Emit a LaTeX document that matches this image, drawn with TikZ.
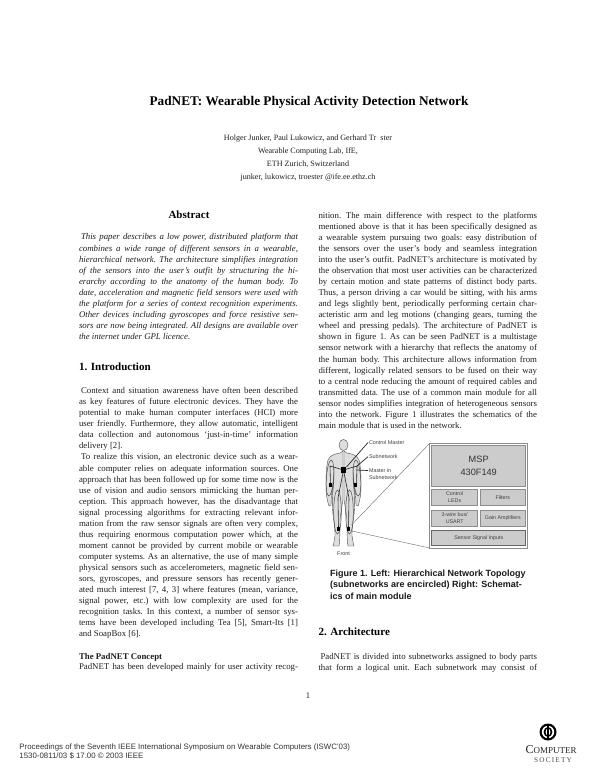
\documentclass[tikz,border=0pt]{standalone}
\usepackage{fontspec}
\setmainfont{Liberation Serif}
\setsansfont{Liberation Sans}
\newcounter{lnum}
\tikzset{
  x=1pt,y=-1pt,
  txt/.style={inner sep=0pt,outer sep=0pt,anchor=base west,yshift=-2.6pt,text=black!88,font=\fontsize{8.8}{10}\selectfont\frenchspacing},
  ctr/.style={inner sep=0pt,outer sep=0pt,anchor=base,yshift=-2.6pt,text=black!88},
  figlab/.style={inner sep=0pt,outer sep=0pt,text=black!75,font=\sffamily\fontsize{5.4}{6.6}\selectfont,align=center},
  modbox/.style={draw=black!45,fill=black!20,line width=0.7pt,inner sep=0pt,outer sep=0pt,font=\sffamily\fontsize{5.3}{7.4}\selectfont,text=black!75,align=center,anchor=north west},
  wire/.style={draw=black!85,line width=0.6pt},
  subring/.style={draw=black!70,line width=0.5pt},
  sqnode/.style={fill=black,draw=none,inner sep=0pt,minimum size=3.6pt},
  captxt/.style={inner sep=0pt,outer sep=0pt,anchor=base west,yshift=-2.8pt,font=\sffamily\bfseries\fontsize{9}{10}\selectfont,text=black!90},
  footl/.style={inner sep=0pt,outer sep=0pt,anchor=base west,font=\sffamily\fontsize{7.85}{9}\selectfont,text=black!80},
  sechead/.style={inner sep=0pt,outer sep=0pt,anchor=base west,yshift=-3.4pt,font=\bfseries\fontsize{11}{13}\selectfont}
}
\newcommand{\jline}[4]{\stepcounter{lnum}\node[txt] (l\arabic{lnum}) at (#1,#2) {\makebox[#3pt][s]{#4}};}
\newcommand{\pline}[3]{\stepcounter{lnum}\node[txt] (l\arabic{lnum}) at (#1,#2) {#3};}
\newcommand{\centline}[3]{\stepcounter{lnum}\node[ctr,font=\fontsize{8.1}{10}\selectfont] (l\arabic{lnum}) at (#1,#2) {#3};}
\newcommand{\halfbody}{%
  \fill[black!13,draw=black!70,line width=0.4pt] (343,451) -- (340,453) .. controls (335,454) and (330,455) .. (328,460)
    .. controls (326,468) and (326,478) .. (326,487) .. controls (326,494) and (327,500) .. (329,506)
    -- (331,505) .. controls (331,498) and (332,490) .. (333,484) .. controls (334,478) and (334,472) .. (334,467)
    .. controls (334,475) and (334,482) .. (333,490) .. controls (332,498) and (332,510) .. (334,522)
    .. controls (335,528) and (335,532) .. (335,536) .. controls (334,540) and (334,544) .. (333,546)
    -- (339,546) .. controls (340,540) and (340,530) .. (340,520) .. controls (341,512) and (342,505) .. (343,500) -- cycle;
  \draw[subring] (330,478) ellipse [x radius=3.6,y radius=18,rotate=-4];
  \draw[subring] (337.5,512) ellipse [x radius=3.8,y radius=22];
  \draw[wire] (343.5,470) -- (330,466) -- (330.5,485);
  \draw[wire] (343.5,470) -- (338,498) -- (338.5,529);
}
\begin{document}
\begin{tikzpicture}
\useasboundingbox (0,0) rectangle (600,776);
\fill[white] (0,0) rectangle (600,776);
% title and authors
\node[inner sep=0pt,anchor=base,font=\bfseries\fontsize{13.25}{16}\selectfont] (title) at (309,105.3) {PadNET: Wearable Physical Activity Detection Network};
\centline{308}{138.3}{Holger Junker, Paul Lukowicz, and Gerhard Tr\ \ ster}
\centline{308}{151}{Wearable Computing Lab, IfE,}
\centline{308}{164}{ETH Zurich, Switzerland}
\centline{308}{176.7}{junker, lukowicz, troester @ife.ee.ethz.ch}
% abstract
\node[inner sep=0pt,anchor=base,font=\bfseries\fontsize{11}{13}\selectfont] (abshead) at (189,218.5) {Abstract};
\jline{81}{237}{217}{\itshape This paper describes a low power, distributed platform that}
\jline{79}{249}{219}{\itshape combines a wide range of different sensors in a wearable,}
\jline{79}{260}{219}{\itshape hierarchical network. The architecture simplifies integration}
\jline{79}{270.5}{219}{\itshape of the sensors into the user's outfit by structuring the hi-}
\jline{79}{281.5}{219}{\itshape erarchy according to the anatomy of the human body. To}
\jline{79}{292.5}{219}{\itshape date, acceleration and magnetic field sensors were used with}
\jline{79}{303.7}{219}{\itshape the platform for a series of context recognition experiments.}
\jline{79}{314.7}{219}{\itshape Other devices including gyroscopes and force resistive sen-}
\jline{79}{325.5}{219}{\itshape sors are now being integrated. All designs are available over}
\pline{79}{337}{\itshape the internet under GPL licence.}
% introduction
\node[sechead] (h1) at (79,367) {1. Introduction};
\jline{81}{391}{217}{Context and situation awareness have often been described}
\jline{79}{402}{219}{as key features of future electronic devices. They have the}
\jline{79}{413.1}{219}{potential to make human computer interfaces (HCI) more}
\jline{79}{424.2}{219}{user friendly. Furthermore, they allow automatic, intelligent}
\jline{79}{435.2}{219}{data collection and autonomous `just-in-time' information}
\pline{79}{446.3}{delivery [2].}
\jline{81}{457.3}{217}{To realize this vision, an electronic device such as a wear-}
\jline{79}{468.4}{219}{able computer relies on adequate information sources. One}
\jline{79}{479.4}{219}{approach that has been followed up for some time now is the}
\jline{79}{490.5}{219}{use of vision and audio sensors mimicking the human per-}
\jline{79}{501.5}{219}{ception. This approach however, has the disadvantage that}
\jline{79}{512.6}{219}{signal processing algorithms for extracting relevant infor-}
\jline{79}{523.6}{219}{mation from the raw sensor signals are often very complex,}
\jline{79}{534.7}{219}{thus requiring enormous computation power which, at the}
\jline{79}{545.7}{219}{moment cannot be provided by current mobile or wearable}
\jline{79}{556.8}{219}{computer systems. As an alternative, the use of many simple}
\jline{79}{567.8}{219}{physical sensors such as accelerometers, magnetic field sen-}
\jline{79}{578.9}{219}{sors, gyroscopes, and pressure sensors has recently gener-}
\jline{79}{589.9}{219}{ated much interest [7, 4, 3] where features (mean, variance,}
\jline{79}{601}{219}{signal power, etc.) with low complexity are used for the}
\jline{79}{612}{219}{recognition tasks. In this context, a number of sensor sys-}
\jline{79}{623.1}{219}{tems have been developed including Tea [5], Smart-Its [1]}
\pline{79}{634.1}{and SoapBox [6].}
\pline{79}{656.7}{\bfseries The PadNET Concept}
\jline{79}{667}{219}{PadNET has been developed mainly for user activity recog-}
% second column
\jline{318.5}{215.7}{218.5}{nition. The main difference with respect to the platforms}
\jline{318.5}{226.8}{218.5}{mentioned above is that it has been specifically designed as}
\jline{318.5}{237.8}{218.5}{a wearable system pursuing two goals: easy distribution of}
\jline{318.5}{248.9}{218.5}{the sensors over the user's body and seamless integration}
\jline{318.5}{259.9}{218.5}{into the user's outfit. PadNET's architecture is motivated by}
\jline{318.5}{271}{218.5}{the observation that most user activities can be characterized}
\jline{318.5}{282}{218.5}{by certain motion and state patterns of distinct body parts.}
\jline{318.5}{293.1}{218.5}{Thus, a person driving a car would be sitting, with his arms}
\jline{318.5}{304.1}{218.5}{and legs slightly bent, periodically performing certain char-}
\jline{318.5}{315.2}{218.5}{acteristic arm and leg motions (changing gears, turning the}
\jline{318.5}{326.2}{218.5}{wheel and pressing pedals). The architecture of PadNET is}
\jline{318.5}{337.3}{218.5}{shown in figure 1. As can be seen PadNET is a multistage}
\jline{318.5}{348.3}{218.5}{sensor network with a hierarchy that reflects the anatomy of}
\jline{318.5}{359.4}{218.5}{the human body. This architecture allows information from}
\jline{318.5}{370.4}{218.5}{different, logically related sensors to be fused on their way}
\jline{318.5}{381.5}{218.5}{to a central node reducing the amount of required cables and}
\jline{318.5}{392.5}{218.5}{transmitted data. The use of a common main module for all}
\jline{318.5}{403.6}{218.5}{sensor nodes simplifies integration of heterogeneous sensors}
\jline{318.5}{414.6}{218.5}{into the network. Figure 1 illustrates the schematics of the}
\pline{318.5}{425.5}{main module that is used in the network.}
% figure: body
\node[circle,fill=black!13,draw=black!70,line width=0.4pt,minimum width=9pt,yscale=1.25,inner sep=0pt] (headshape) at (343.5,445) {};
\halfbody
\begin{scope}[xshift=687pt,xscale=-1]
\halfbody
\end{scope}
\node[sqnode,minimum size=5.5pt] (master) at (343.5,470) {};
\node[sqnode] (armL) at (330.5,485) {};
\node[sqnode] (armR) at (355.5,485) {};
\node[sqnode] (kneeL) at (338.5,529) {};
\node[sqnode] (kneeR) at (348.5,529) {};
\coordinate (legport) at (351.5,525);
\coordinate (legportb) at (352,531);
% figure labels
\node[figlab,anchor=west] (lab1) at (369,442.5) {Control Master};
\node[figlab,anchor=west] (lab2) at (369,456.7) {Subnetwork};
\node[figlab,anchor=west,align=left] (lab3) at (369,474) {Master in\\[0.4pt]Subnetwork};
\node[figlab] (front) at (343.5,554) {Front};
\draw[black!85,line width=0.7pt] ([xshift=-1pt]lab1.west) -- (master.north east);
\draw[black!85,line width=0.7pt] ([xshift=-1pt]lab2.west) -- (357,466);
\draw[black!85,line width=0.7pt] ([xshift=-1pt,yshift=3.5pt]lab3.west) -- (356.5,470);
% figure: module
\node[draw=black!45,fill=white,line width=0.7pt,minimum width=98pt,minimum height=104.5pt,inner sep=0pt,outer sep=0pt,anchor=north west] (panel) at (429.5,443.5) {};
\node[modbox,minimum width=94pt,minimum height=41pt] (msp) at (431.7,445) {};
\node[inner sep=0pt,font=\sffamily\fontsize{9.2}{13}\selectfont,text=black!80,align=center] (msptxt) at (msp.center) {MSP\\430F149};
\node[modbox,minimum width=46pt,minimum height=16.5pt] (leds) at (431.7,489) {Control\\LEDs};
\node[modbox,minimum width=45.7pt,minimum height=16.5pt] (filters) at (480,489) {Filters};
\node[modbox,minimum width=46pt,minimum height=16.7pt] (bus) at (431.7,510) {3-wire bus/\\USART};
\node[modbox,minimum width=45.7pt,minimum height=16.7pt] (gain) at (480,510) {Gain Amplifiers};
\node[modbox,draw=black!60,line width=1pt,minimum width=94pt,minimum height=15.5pt] (inputs) at (431.7,530) {Sensor Signal Inputs};
\draw[black!50,line width=0.5pt] (legport) -- (panel.north west);
\draw[black!50,line width=0.5pt] (legportb) -- (panel.south west);
% caption
\node[captxt] (c1) at (330,574) {Figure 1. Left: Hierarchical Network Topology};
\node[captxt] (c2) at (330,585) {(subnetworks are encircled) Right: Schemat-};
\node[captxt] (c3) at (330,596.7) {ics of main module};
% section 2
\node[sechead] (h2) at (318.5,632.3) {2. Architecture};
\jline{320.5}{656.7}{216.5}{PadNET is divided into subnetworks assigned to body parts}
\jline{318.5}{667.7}{218.5}{that form a logical unit. Each subnetwork may consist of}
% footer
\node[ctr,font=\fontsize{8.6}{10}\selectfont] (pageno) at (308,696) {1};
\node[footl] (f1) at (19.5,749) {Proceedings of the Seventh IEEE International Symposium on Wearable Computers (ISWC'03)};
\node[footl] (f2) at (19.5,758) {1530-0811/03 \$ 17.00 \copyright\ 2003 IEEE};
% logo
\fill[black] (548,732) circle (8.5);
\fill[white] (548,732) circle (6.2);
\fill[black] (548,732) ellipse [x radius=4.4,y radius=5];
\fill[white] (548,732) ellipse [x radius=2.4,y radius=3.4];
\fill[black] (547,724) rectangle (549,740);
\node[inner sep=0pt,anchor=base,font=\fontsize{12}{12}\selectfont,text=black!85] (lg1) at (551,753) {C\fontsize{9}{9}\selectfont OMPUTER};
\node[inner sep=0pt,anchor=base,font=\fontsize{7.2}{8}\selectfont,text=black!70] (lg2) at (553,762) {S\,O\,C\,I\,E\,T\,Y};
\end{tikzpicture}
\end{document}
